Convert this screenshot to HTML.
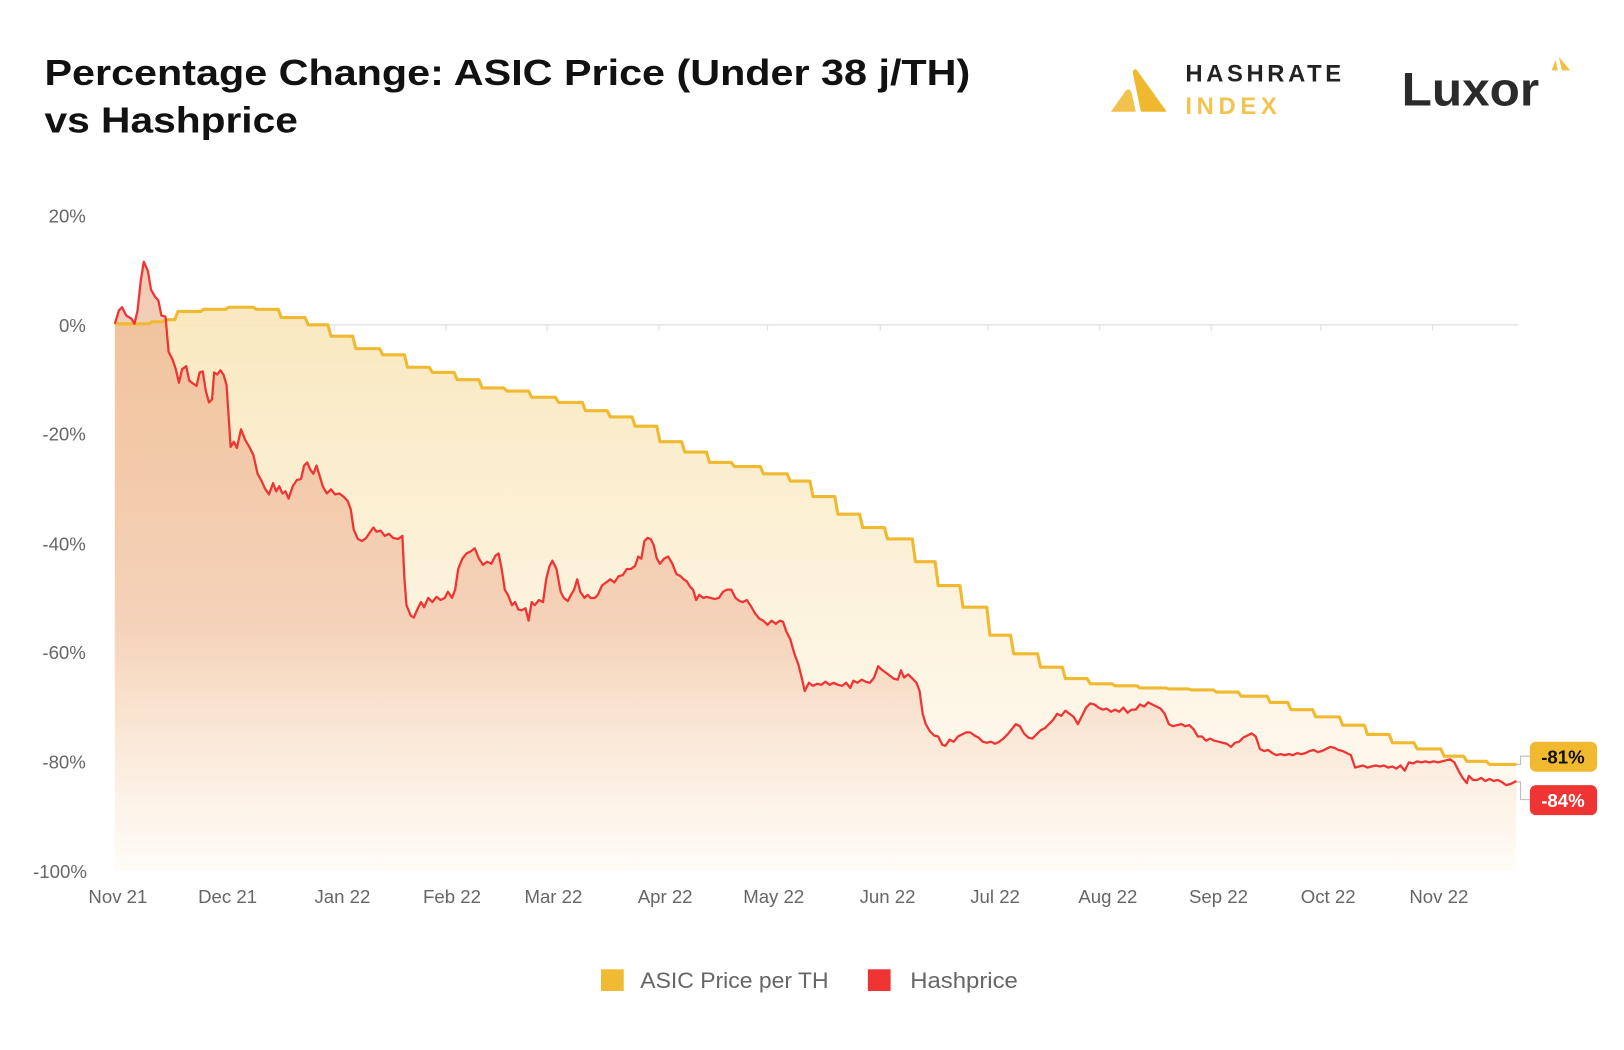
<!DOCTYPE html>
<html><head><meta charset="utf-8"><style>
html,body{margin:0;padding:0;background:#fff;width:1624px;height:1050px;overflow:hidden}
svg{display:block}
text{font-family:"Liberation Sans",sans-serif}
</style></head><body>
<svg width="1624" height="1050" viewBox="0 0 1570 1015" xmlns="http://www.w3.org/2000/svg">
<defs>
<linearGradient id="gy" x1="0" y1="0" x2="0" y2="1" gradientUnits="objectBoundingBox">
<stop offset="0" stop-color="#f9e6b8"/><stop offset="1" stop-color="#fffcf7"/></linearGradient>
<linearGradient id="gr" x1="0" y1="250" x2="0" y2="842" gradientUnits="userSpaceOnUse">
<stop offset="0" stop-color="#e9a883" stop-opacity="0.6"/><stop offset="0.6" stop-color="#eba98a" stop-opacity="0.45"/><stop offset="1" stop-color="#f3c8b4" stop-opacity="0"/></linearGradient>
</defs>
<text x="43" y="82" font-size="35" font-weight="bold" fill="#111" textLength="895" lengthAdjust="spacingAndGlyphs">Percentage Change: ASIC Price (Under 38 j/TH)</text>
<text x="43" y="128" font-size="35" font-weight="bold" fill="#111" textLength="245" lengthAdjust="spacingAndGlyphs">vs Hashprice</text>
<!-- Hashrate index logo -->
<path d="M1074,108 L1088,88 Q1092,84 1094,90 L1098,108 Z" fill="#f2c14e"/>
<path d="M1095,70 Q1097,64 1100,69 L1128,108 L1103,108 Z" fill="#efb92f"/>
<text x="1146" y="79" font-size="23" font-weight="bold" fill="#222" letter-spacing="3.5">HASHRATE</text>
<text x="1146" y="110" font-size="23" font-weight="bold" fill="#f2c44f" letter-spacing="4.5">INDEX</text>
<text x="1355" y="102" font-size="46" font-weight="bold" fill="#2b2b2b" textLength="133" lengthAdjust="spacingAndGlyphs">Luxor</text>
<path d="M1500,68 L1504,58 L1506,68 Z M1507,55 L1518,68 L1510,68 Z" fill="#f0bf3f"/>
<!-- axes -->
<g font-size="18" fill="#666" text-anchor="end">
<text x="83" y="215">20%</text><text x="83" y="321">0%</text><text x="83" y="426">-20%</text>
<text x="83" y="532">-40%</text><text x="83" y="637">-60%</text><text x="83" y="743">-80%</text><text x="84" y="849">-100%</text>
</g>
<line x1="111" y1="314" x2="1468" y2="314" stroke="#e3e3e3" stroke-width="1.5"/>
<g stroke="#e3e3e3" stroke-width="1.2">
<line x1="215" y1="314" x2="215" y2="320"/><line x1="323" y1="314" x2="323" y2="320"/><line x1="431" y1="314" x2="431" y2="320"/><line x1="529" y1="314" x2="529" y2="320"/><line x1="637" y1="314" x2="637" y2="320"/><line x1="742" y1="314" x2="742" y2="320"/><line x1="851" y1="314" x2="851" y2="320"/><line x1="955" y1="314" x2="955" y2="320"/><line x1="1063" y1="314" x2="1063" y2="320"/><line x1="1171" y1="314" x2="1171" y2="320"/><line x1="1277" y1="314" x2="1277" y2="320"/><line x1="1385" y1="314" x2="1385" y2="320"/>
</g>
<g font-size="18" fill="#666" text-anchor="middle">
<text x="114" y="873">Nov 21</text><text x="220" y="873">Dec 21</text><text x="331" y="873">Jan 22</text><text x="437" y="873">Feb 22</text><text x="535" y="873">Mar 22</text><text x="643" y="873">Apr 22</text><text x="748" y="873">May 22</text><text x="858" y="873">Jun 22</text><text x="962" y="873">Jul 22</text><text x="1071" y="873">Aug 22</text><text x="1178" y="873">Sep 22</text><text x="1284" y="873">Oct 22</text><text x="1391" y="873">Nov 22</text>
</g>
<g id="series"></g>
<!-- end labels -->
<path d="M1466,739 L1470,739 L1470,731 L1480,731" fill="none" stroke="#bbb" stroke-width="1"/>
<path d="M1466,756 L1470,756 L1470,773 L1480,773" fill="none" stroke="#bbb" stroke-width="1"/>
<rect x="1479" y="717" width="65" height="29" rx="6" fill="#f0b930"/>
<text x="1511" y="738" font-size="18" font-weight="bold" fill="#111" text-anchor="middle">-81%</text>
<rect x="1479" y="759" width="65" height="29" rx="6" fill="#ef3434"/>
<text x="1511" y="780" font-size="18" font-weight="bold" fill="#fff" text-anchor="middle">-84%</text>
<!-- legend -->
<rect x="581" y="937" width="22" height="21" fill="#f0bb33"/>
<text x="619" y="955" font-size="21" fill="#666" textLength="182" lengthAdjust="spacingAndGlyphs">ASIC Price per TH</text>
<rect x="839" y="937" width="22" height="21" fill="#ef3434"/>
<text x="880" y="955" font-size="21" fill="#666" textLength="104" lengthAdjust="spacingAndGlyphs">Hashprice</text>
</svg>
<script>
var A=[[111,313],[147,311],[160,309],[172,301],[197,299],[221,297],[248,299],[272,307],[298,314],[320,325],[344,337],[370,343],[394,355],[418,360],[442,367],[466,375],[490,378],[514,384],[540,389],[566,397],[590,403],[614,412],[638,427],[662,437],[686,447],[710,451],[738,458],[764,465],[786,480],[810,497],[834,510],[858,521],[885,543],[907,566],[931,587],[957,614],[980,632],[1006,645],[1030,656],[1054,661],[1078,663],[1102,665],[1130,666],[1152,667],[1176,669],[1200,673],[1228,679],[1248,686],[1272,693],[1298,701],[1322,710],[1346,718],[1370,724],[1396,731],[1418,736],[1440,739]];
var s="M"+A[0][0]+","+A[0][1];
for(var i=1;i<A.length;i++){s+=" L"+(A[i][0]-3)+","+A[i-1][1]+" L"+A[i][0]+","+A[i][1];}
s+=" L1466,739";
var R="111,313 115,300 118,297 122,305 127,308 130,313 133,300 136,272 139,253 143,262 146,280 150,287 153,290 156,305 160,306 163,340 167,348 170,357 173,370 176,357 180,354 183,368 187,371 190,373 193,360 196,359 199,378 202,389 205,386 207,360 210,362 213,358 216,362 219,372 223,432 226,427 229,433 233,415 237,425 241,432 245,440 249,458 253,465 256,472 260,478 264,467 267,475 270,470 273,477 276,475 279,482 283,470 287,464 291,463 294,450 297,447 300,454 303,458 306,450 309,460 312,470 316,477 320,473 324,478 328,477 332,480 336,484 339,492 342,512 346,521 350,523 354,520 358,514 361,510 364,514 368,513 372,518 376,516 380,520 385,521 389,518 391,560 393,585 397,595 400,597 404,588 407,582 410,587 414,578 418,582 422,577 426,580 430,578 433,572 437,578 440,570 443,550 447,540 451,535 455,533 459,530 463,540 467,546 471,543 475,545 479,537 482,535 485,550 488,570 491,575 495,585 498,582 501,589 504,590 508,588 511,600 514,582 517,585 521,580 525,582 528,560 531,548 534,542 538,550 542,572 545,578 549,581 552,575 555,570 558,560 561,572 565,578 568,575 571,578 575,578 578,575 582,566 586,563 590,560 594,563 598,557 602,556 606,550 610,550 614,547 617,538 620,540 623,523 626,520 629,521 632,527 635,540 638,545 642,540 646,538 650,545 654,555 658,557 661,560 664,562 667,567 670,570 673,580 676,575 680,578 683,577 687,578 691,579 695,578 699,572 703,570 707,570 711,578 715,581 718,582 722,580 726,586 730,593 734,598 738,600 742,604 746,600 750,603 754,600 757,601 760,610 764,618 768,632 772,643 775,655 778,668 782,660 786,663 790,661 794,662 798,659 802,662 806,660 810,662 814,663 818,660 822,665 825,658 829,660 833,657 837,659 841,660 845,655 849,644 852,647 856,650 860,653 864,656 868,657 871,648 874,655 878,652 882,656 886,660 889,668 892,690 895,700 899,707 903,711 907,712 911,720 914,721 918,715 922,717 926,712 930,710 934,708 938,708 942,711 946,713 950,717 954,718 958,717 962,719 966,717 970,714 974,710 978,705 982,700 986,702 990,709 994,713 998,714 1002,710 1006,706 1010,704 1014,700 1018,696 1022,690 1026,692 1030,687 1034,690 1038,693 1042,700 1046,692 1050,684 1054,680 1058,681 1062,684 1066,686 1070,685 1074,688 1078,686 1082,688 1086,684 1090,689 1094,686 1098,686 1102,681 1106,683 1110,679 1114,681 1118,683 1122,685 1126,690 1130,700 1134,702 1138,701 1142,700 1146,702 1150,701 1154,705 1158,712 1162,712 1166,716 1170,714 1174,716 1178,717 1182,718 1186,719 1190,722 1194,718 1198,717 1202,713 1206,711 1210,709 1214,712 1218,724 1222,726 1226,725 1230,728 1234,730 1238,729 1242,730 1246,729 1250,730 1254,728 1258,729 1262,728 1266,726 1270,725 1274,727 1278,726 1282,724 1286,722 1290,723 1294,725 1298,726 1302,728 1306,730 1310,742 1314,741 1318,740 1322,742 1326,741 1330,740 1334,741 1338,740 1342,742 1346,741 1350,743 1354,740 1358,745 1362,737 1366,738 1370,736 1374,737 1378,736 1382,737 1386,736 1390,737 1394,736 1398,735 1402,734 1406,737 1410,745 1414,752 1418,757 1420,750 1424,754 1428,754 1432,752 1436,755 1440,753 1444,755 1448,754 1452,756 1456,759 1460,758 1464,756 1466,755";
var r="M"+R.split(" ").join(" L");
var ns="http://www.w3.org/2000/svg",g=document.getElementById("series");
function add(d,a){var p=document.createElementNS(ns,"path");p.setAttribute("d",d);for(var k in a)p.setAttribute(k,a[k]);g.appendChild(p);}
add(s+" L1466,842 L111,842 Z",{fill:"url(#gy)",opacity:"0.9"});
add(r+" L1464,842 L111,842 Z",{fill:"url(#gr)"});
add(s,{fill:"none",stroke:"#f0b930","stroke-width":"3","stroke-linejoin":"round"});
add(r,{fill:"none",stroke:"#ef3434","stroke-width":"2.2","stroke-linejoin":"round"});
</script>
</body></html>
